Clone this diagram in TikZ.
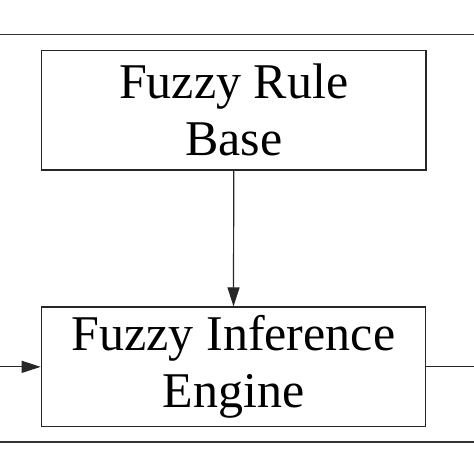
\documentclass[tikz,border=0pt]{standalone}
\usepackage{fontspec}
\setmainfont{Liberation Serif}
\usetikzlibrary{arrows.meta}
\begin{document}
\begin{tikzpicture}[x=1pt,y=1pt,
  blockbox/.style={draw=black!85, line width=1.2pt, minimum width=384.5pt, inner sep=0pt,
    align=center, font=\fontsize{50}{57}\selectfont},
  sepline/.style={draw=black!80, line width=1.8pt},
  conn/.style={draw=black!85, line width=1.2pt},
  tip/.style={-{Triangle[length=19pt,width=12pt]}}]
\useasboundingbox (0,0) rectangle (474,474);
\path[fill=white] (0,0) rectangle (474,474);
\coordinate (tl) at (0,439.5);
\coordinate (tr) at (474,439.5);
\coordinate (bl) at (0,32);
\coordinate (br) at (474,32);
\draw[sepline] (tl) -- (tr);
\draw[sepline] (bl) -- (br);
\node[blockbox, minimum height=119.3pt] (rule) at (233.75,363.65) {Fuzzy Rule\\Base};
\node[blockbox, minimum height=119.7pt] (inf) at (233.5,107.15) {Fuzzy Inference\\Engine};
\coordinate (inl) at (0,107.15);
\coordinate (outr) at (474,107.15);
\draw[conn,tip] (rule.south) -- (inf.north);
\draw[conn,tip] (inl) -- (inf.west);
\draw[conn] (inf.east) -- (outr);
\end{tikzpicture}
\end{document}
